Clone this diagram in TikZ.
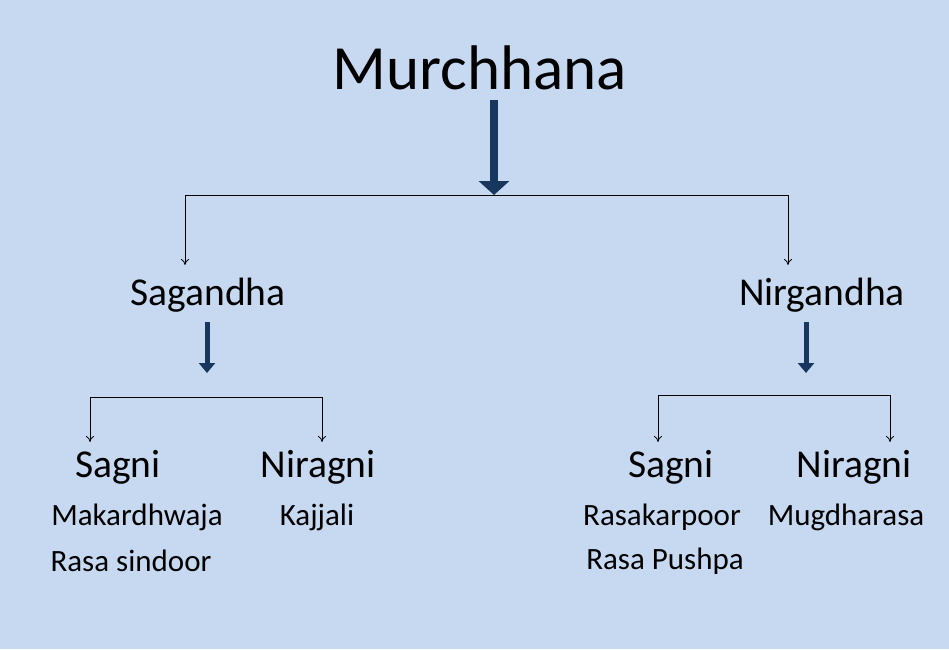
\documentclass[tikz,border=0pt]{standalone}
\usepackage{fontspec}
\setmainfont{Carlito}
\usetikzlibrary{arrows.meta}
\definecolor{bg}{HTML}{C6D9F1}
\definecolor{navy}{HTML}{17375E}
\definecolor{thin}{HTML}{3A5A85}
\begin{document}
\begin{tikzpicture}[x=1pt,y=-1pt,
  big/.style={-{Triangle[width=30pt,length=14pt]},line width=8pt,navy},
  mid/.style={-{Triangle[width=16pt,length=10pt]},line width=5pt,navy},
  br/.style={thin,line width=0.8pt},
  brarr/.style={thin,line width=0.8pt,-{To[length=6pt,width=8pt]}},
  t/.style={inner sep=0pt,text=black,anchor=center},
  ft/.style={t,font=\fontsize{63}{65}\selectfont},
  fm/.style={t,font=\fontsize{39.5}{41}\selectfont},
  fs/.style={t,font=\fontsize{31}{33}\selectfont}]
\fill[bg] (0,0) rectangle (949,649);
\useasboundingbox (0,0) rectangle (949,649);
\node[ft] (m) at (480,68) {Murchhana};
\node[fm] (sg) at (208,295) {Sagandha};
\node[fm] (ng) at (822,295) {Nirgandha};
\node[fm] (s1) at (118,467) {Sagni};
\node[fm] (n1) at (318,467) {Niragni};
\node[fm] (s2) at (671,467) {Sagni};
\node[fm] (n2) at (854,467) {Niragni};
\node[fs] (a1) at (137,517) {Makardhwaja};
\node[fs] (a2) at (131,561) {Rasa sindoor};
\node[fs] (b1) at (317,517) {Kajjali};
\node[fs] (c1) at (662,517) {Rasakarpoor};
\node[fs] (c2) at (665,561) {Rasa Pushpa};
\node[fs] (d1) at (846,517) {Mugdharasa};
\coordinate (j0) at (494,195);
\draw[big] (494,100) -- (j0);
\draw[br] (185,195) -- (788,195);
\draw[brarr] (185,195) -- (185,265);
\draw[brarr] (788,195) -- (788,265);
\draw[mid] (207,322) -- (207,373);
\draw[mid] (806,322) -- (806,373);
\draw[br] (90,397) -- (322,397);
\draw[brarr] (90,397) -- (90,442);
\draw[brarr] (322,397) -- (322,442);
\draw[br] (658,395) -- (890,395);
\draw[brarr] (658,395) -- (658,442);
\draw[brarr] (890,395) -- (890,442);
\end{tikzpicture}
\end{document}
